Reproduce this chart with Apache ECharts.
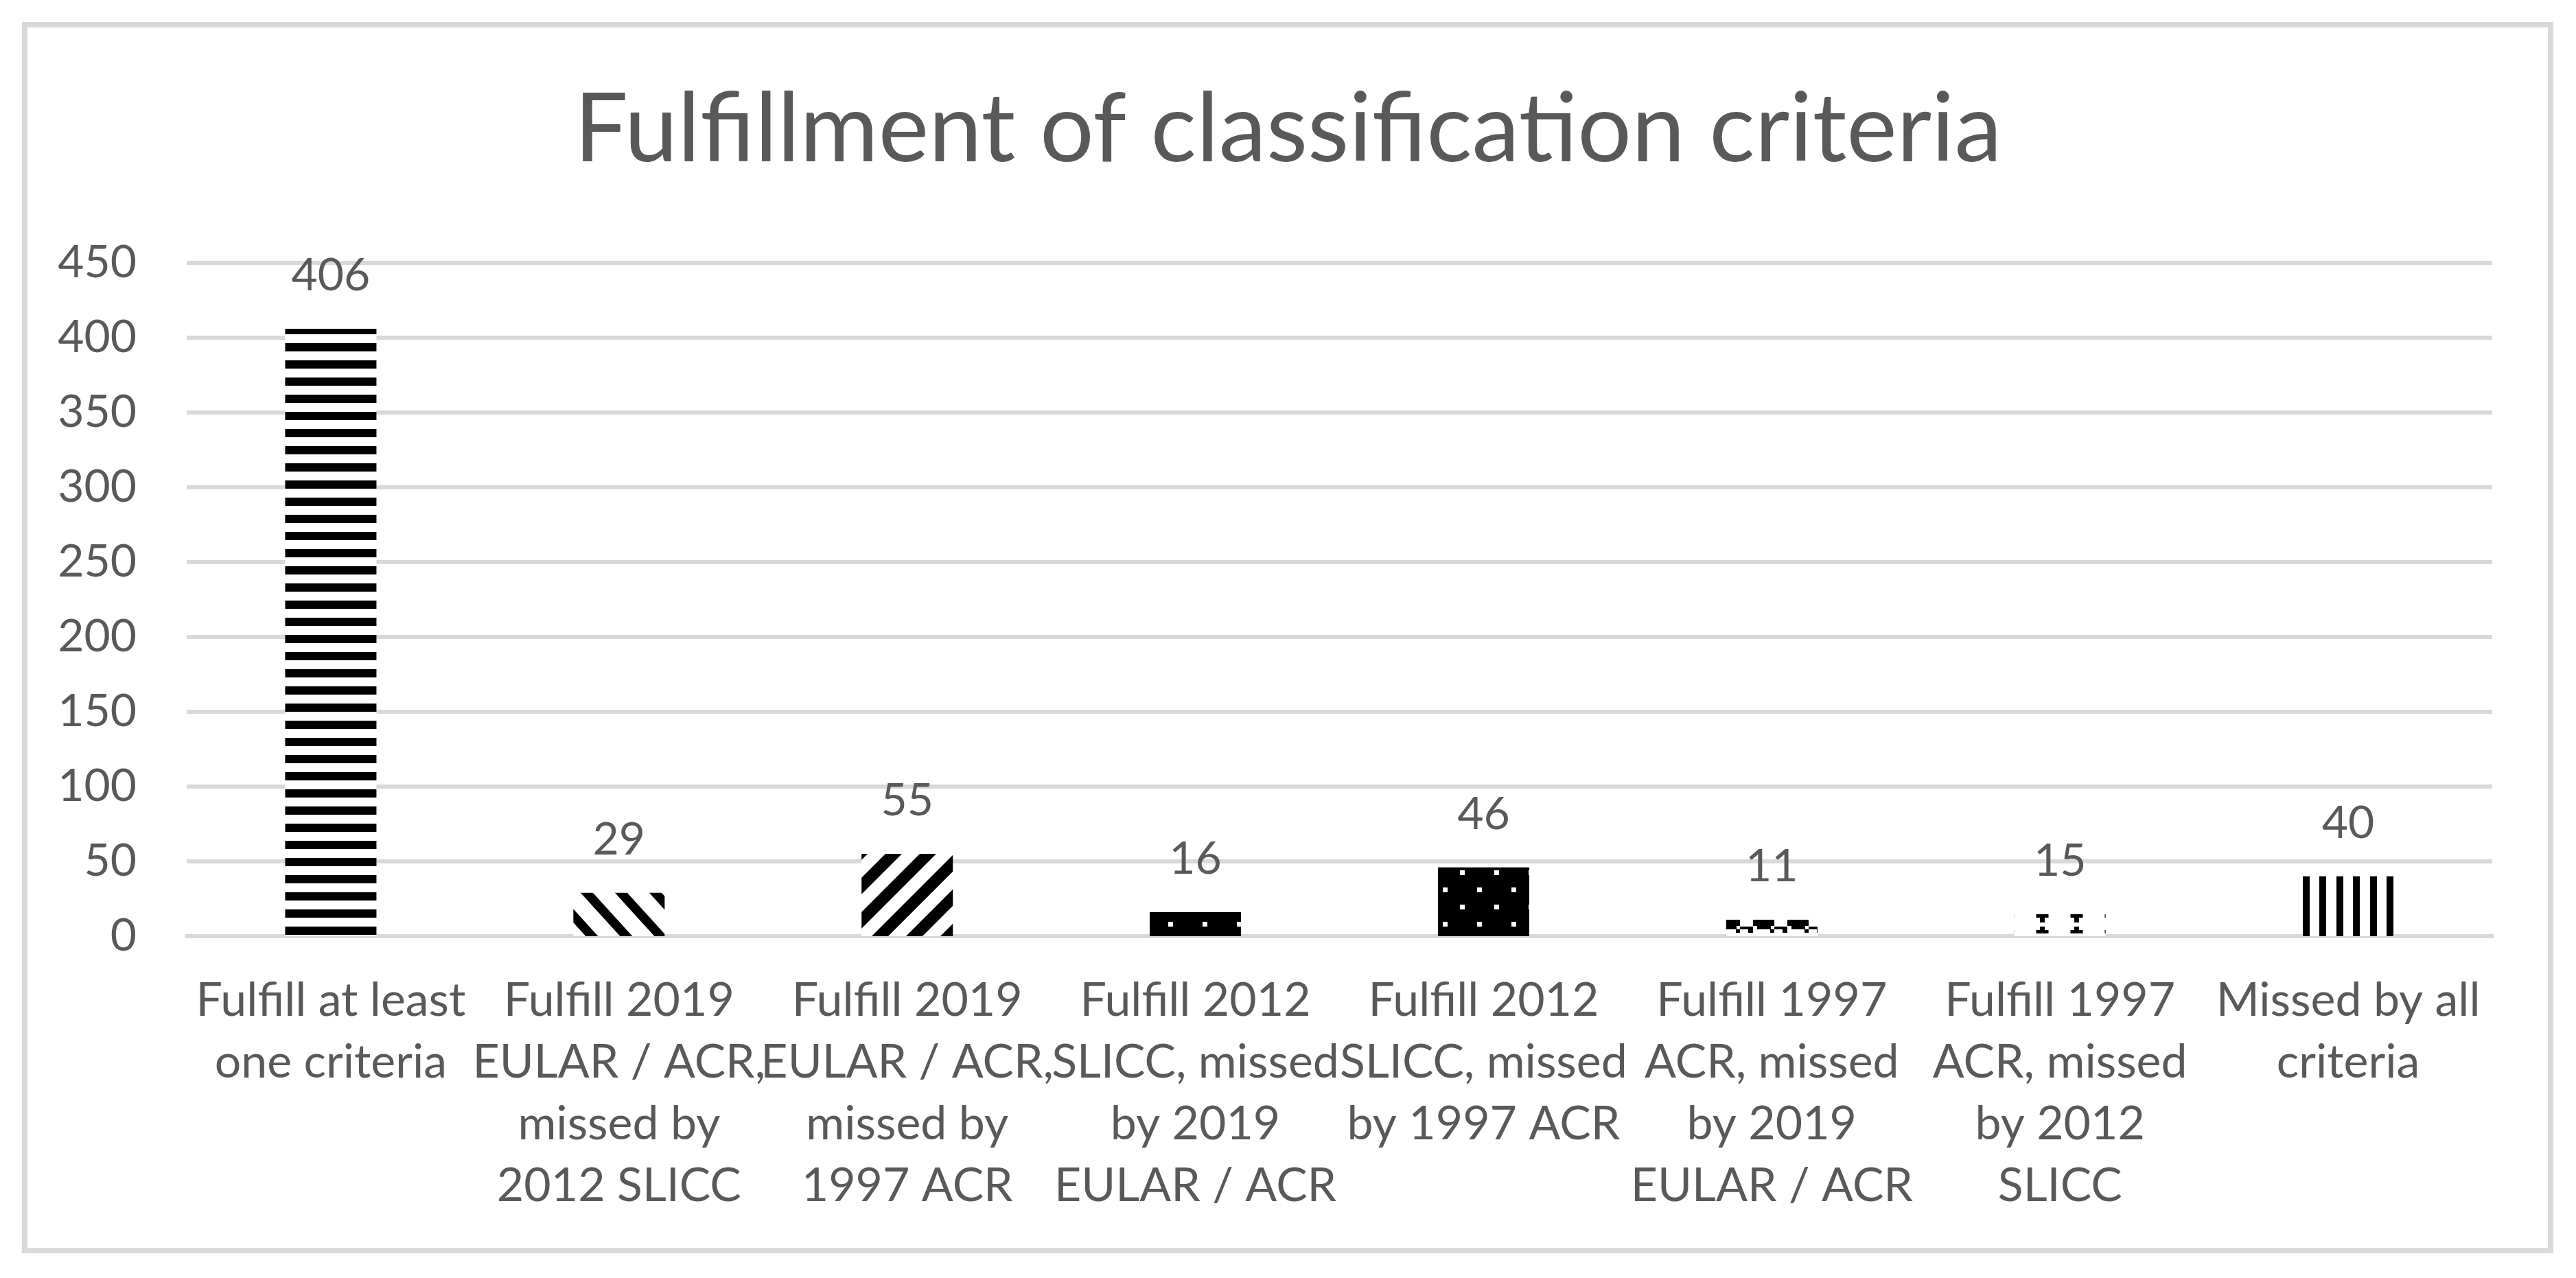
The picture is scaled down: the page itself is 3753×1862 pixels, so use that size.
<!DOCTYPE html>
<html>
<head>
<meta charset="utf-8">
<script src="https://cdn.jsdelivr.net/npm/echarts@6/dist/echarts.min.js"></script>
<style>
html,body{margin:0;padding:0;background:#fff;}
#chart{width:3753px;height:1862px;}
</style>
</head>
<body>
<div id="chart"></div>
<script>
const titleText = 'Fulfillment of classification criteria';
const categories = [
  'Fulfill at least\none criteria',
  'Fulfill 2019\nEULAR / ACR,\nmissed by\n2012 SLICC',
  'Fulfill 2019\nEULAR / ACR,\nmissed by\n1997 ACR',
  'Fulfill 2012\nSLICC, missed\nby 2019\nEULAR / ACR',
  'Fulfill 2012\nSLICC, missed\nby 1997 ACR',
  'Fulfill 1997\nACR, missed\nby 2019\nEULAR / ACR',
  'Fulfill 1997\nACR, missed\nby 2012\nSLICC',
  'Missed by all\ncriteria'
];
const values = [406, 29, 55, 16, 46, 11, 15, 40];
const yTicks = [0, 50, 100, 150, 200, 250, 300, 350, 400, 450];

const FONT = 'Lato';
const TXT = '#595959';
const GRID = '#d9d9d9';

function tile(w, h, draw, bg) {
  const c = document.createElement('canvas');
  c.width = w; c.height = h;
  const ctx = c.getContext('2d');
  ctx.fillStyle = bg || '#fff';
  ctx.fillRect(0, 0, w, h);
  for (const dx of [-w, 0, w]) for (const dy of [-h, 0, h]) {
    ctx.save(); ctx.translate(dx, dy); draw(ctx); ctx.restore();
  }
  return c;
}
function poly(ctx, pts, col) {
  ctx.fillStyle = col || '#000';
  ctx.beginPath(); ctx.moveTo(pts[0][0], pts[0][1]);
  for (let i = 1; i < pts.length; i++) ctx.lineTo(pts[i][0], pts[i][1]);
  ctx.closePath(); ctx.fill();
}
function rects(ctx, list, col, ox, oy) {
  ctx.fillStyle = col || '#000';
  list.forEach(r => ctx.fillRect(ox + r[0], oy + r[1], r[2], r[3]));
}

const patterns = [
  tile(8, 25, ctx => rects(ctx, [[0, 0, 8, 12]], '#000', 0, 0)),
  tile(50, 55, ctx => poly(ctx, [[13.3, 0], [31.3, 0], [81.3, 55], [63.3, 55]])),
  tile(50, 50, ctx => poly(ctx, [[34, 0], [58, 0], [8, 50], [-16, 50]])),
  tile(50, 50, ctx => rects(ctx, [[27, 18, 7, 7], [2, 43, 7, 7]], '#fff', 0, 0), '#000'),
  tile(50, 50, ctx => rects(ctx, [[27, 18, 7, 7], [2, 43, 7, 7]], '#fff', 0, 0), '#000'),
  tile(50, 50, ctx => rects(ctx, [[0, 0, 31, 9], [6, 9, 20, 5], [31, 10, 19, 4], [43, 14, 7, 5], [25, 14, 6, 5]], '#000', 4, 40)),
  tile(50, 50, ctx => rects(ctx, [[-9, 0, 18, 5], [-3.5, 5, 7, 7], [-3.5, 18, 7, 5], [-9, 23, 18, 5]], '#000', 25.5, 32)),
  tile(122, 8, ctx => rects(ctx, [[61, 0, 10, 8], [85, 0, 10, 8], [110, 0, 10, 8], [12, 0, 10, 8], [37, 0, 10, 8]], '#000', 0, 0))
];

const chart = echarts.init(document.getElementById('chart'), null, {renderer: 'canvas'});
chart.setOption({
  backgroundColor: '#fff',
  animation: false,
  title: {
    text: titleText,
    left: 'center',
    top: 116,
    textStyle: {fontFamily: FONT, fontSize: 139, fontWeight: 'normal', color: TXT}
  },
  graphic: [{
    type: 'rect',
    shape: {x: 36, y: 36, width: 3680, height: 1786},
    style: {fill: 'none', stroke: GRID, lineWidth: 8},
    silent: true
  }],
  grid: {left: 272, right: 122, top: 383, bottom: 498, containLabel: false},
  xAxis: {
    type: 'category',
    data: categories,
    axisLine: {show: true, lineStyle: {color: GRID, width: 6}},
    axisTick: {show: false},
    axisLabel: {interval: 0, margin: 49, fontFamily: FONT, fontSize: 68, lineHeight: 90, color: TXT}
  },
  yAxis: {
    type: 'value',
    min: yTicks[0],
    max: yTicks[yTicks.length - 1],
    interval: yTicks[1] - yTicks[0],
    axisLine: {show: false},
    axisTick: {show: false},
    splitLine: {lineStyle: {color: GRID, width: 6}},
    axisLabel: {margin: 73, fontFamily: FONT, fontSize: 66, color: TXT}
  },
  series: [{
    type: 'bar',
    barWidth: 133,
    data: values.map((v, i) => ({value: v, itemStyle: {color: {image: patterns[i], repeat: 'repeat'}}})),
    label: {show: true, position: 'top', distance: 44, fontFamily: FONT, fontSize: 66, color: TXT}
  }]
});
</script>
</body>
</html>
